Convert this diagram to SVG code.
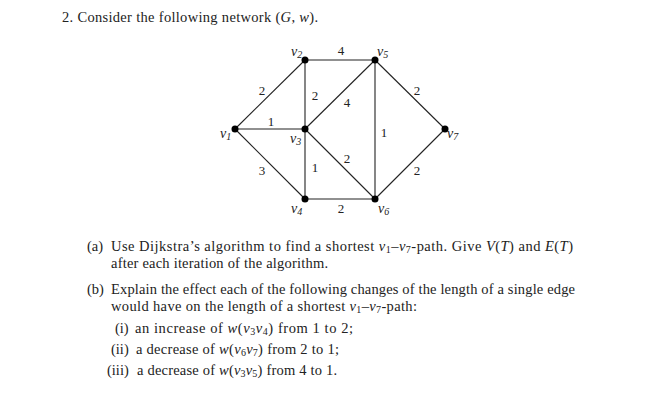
<svg xmlns="http://www.w3.org/2000/svg" width="648" height="406" viewBox="0 0 648 406">
<style>
text{font-family:"Liberation Serif","Times New Roman",serif;font-size:14.5px;fill:#222}
.m{font-style:italic}
.e line{stroke:#222;stroke-width:1.1}
.n circle{fill:#000}
.w{font-size:13px;text-anchor:middle}
.n text{font-size:14px}
</style>
<rect width="648" height="406" fill="#fff"/>
<text x="62" y="22" textLength="256" lengthAdjust="spacing">2. Consider the following network (<tspan class="m">G</tspan>, <tspan class="m">w</tspan>).</text>
<g id="connectors" class="e">
<line x1="235" y1="129" x2="305" y2="60"/>
<line x1="235" y1="129" x2="305" y2="129"/>
<line x1="235" y1="129" x2="305" y2="199"/>
<line x1="305" y1="60" x2="375" y2="60"/>
<line x1="305" y1="60" x2="305" y2="199"/>
<line x1="305" y1="129" x2="375" y2="60"/>
<line x1="305" y1="129" x2="375" y2="199"/>
<line x1="305" y1="199" x2="375" y2="199"/>
<line x1="375" y1="60" x2="375" y2="199"/>
<line x1="375" y1="60" x2="445" y2="129"/>
<line x1="375" y1="199" x2="445" y2="129"/>
</g>
<g id="weights">
<text class="w" x="262" y="95">2</text>
<text class="w" x="271" y="126">1</text>
<text class="w" x="262" y="175">3</text>
<text class="w" x="341" y="55">4</text>
<text class="w" x="315" y="100">2</text>
<text class="w" x="347" y="107">4</text>
<text class="w" x="315" y="172">1</text>
<text class="w" x="347" y="163">2</text>
<text class="w" x="341" y="213">2</text>
<text class="w" x="384" y="137">1</text>
<text class="w" x="417" y="95">2</text>
<text class="w" x="417" y="175">2</text>
</g>
<g id="v1" class="n"><circle cx="235" cy="129" r="3.5"/><text class="m" x="220" y="138">v<tspan font-size="10" dy="2">1</tspan></text></g>
<g id="v2" class="n"><circle cx="305" cy="60" r="3.5"/><text class="m" x="291" y="56">v<tspan font-size="10" dy="2">2</tspan></text></g>
<g id="v3" class="n"><circle cx="305" cy="129" r="3.5"/><text class="m" x="290" y="143">v<tspan font-size="10" dy="2">3</tspan></text></g>
<g id="v4" class="n"><circle cx="305" cy="199" r="3.5"/><text class="m" x="291" y="213">v<tspan font-size="10" dy="2">4</tspan></text></g>
<g id="v5" class="n"><circle cx="375" cy="60" r="3.5"/><text class="m" x="377" y="56">v<tspan font-size="10" dy="2">5</tspan></text></g>
<g id="v6" class="n"><circle cx="375" cy="199" r="3.5"/><text class="m" x="378" y="213">v<tspan font-size="10" dy="2">6</tspan></text></g>
<g id="v7" class="n"><circle cx="445" cy="129" r="3.5"/><text class="m" x="447" y="138">v<tspan font-size="10" dy="2">7</tspan></text></g>
<text x="87" y="251">(a)</text>
<text x="111" y="251" textLength="462" lengthAdjust="spacing">Use Dijkstra’s algorithm to find a shortest <tspan class="m">v</tspan><tspan font-size="10" dy="2">1</tspan><tspan dy="-2">–</tspan><tspan class="m">v</tspan><tspan font-size="10" dy="2">7</tspan><tspan dy="-2">-path. Give </tspan><tspan class="m">V</tspan>(<tspan class="m">T</tspan>) and <tspan class="m">E</tspan>(<tspan class="m">T</tspan>)</text>
<text x="111" y="268" textLength="217" lengthAdjust="spacing">after each iteration of the algorithm.</text>
<text x="87" y="294">(b)</text>
<text x="111" y="294" textLength="464" lengthAdjust="spacing">Explain the effect each of the following changes of the length of a single edge</text>
<text x="111" y="311" textLength="306" lengthAdjust="spacing">would have on the length of a shortest <tspan class="m">v</tspan><tspan font-size="10" dy="2">1</tspan><tspan dy="-2">–</tspan><tspan class="m">v</tspan><tspan font-size="10" dy="2">7</tspan><tspan dy="-2">-path:</tspan></text>
<text x="115" y="333">(i)</text>
<text x="135" y="333" textLength="218" lengthAdjust="spacing">an increase of <tspan class="m">w</tspan>(<tspan class="m">v</tspan><tspan font-size="10" dy="2">3</tspan><tspan class="m" dy="-2">v</tspan><tspan font-size="10" dy="2">4</tspan><tspan dy="-2">) from 1 to 2;</tspan></text>
<text x="111" y="354">(ii)</text>
<text x="136" y="354" textLength="203" lengthAdjust="spacing">a decrease of <tspan class="m">w</tspan>(<tspan class="m">v</tspan><tspan font-size="10" dy="2">6</tspan><tspan class="m" dy="-2">v</tspan><tspan font-size="10" dy="2">7</tspan><tspan dy="-2">) from 2 to 1;</tspan></text>
<text x="107" y="375">(iii)</text>
<text x="137" y="375" textLength="200" lengthAdjust="spacing">a decrease of <tspan class="m">w</tspan>(<tspan class="m">v</tspan><tspan font-size="10" dy="2">3</tspan><tspan class="m" dy="-2">v</tspan><tspan font-size="10" dy="2">5</tspan><tspan dy="-2">) from 4 to 1.</tspan></text>
</svg>
